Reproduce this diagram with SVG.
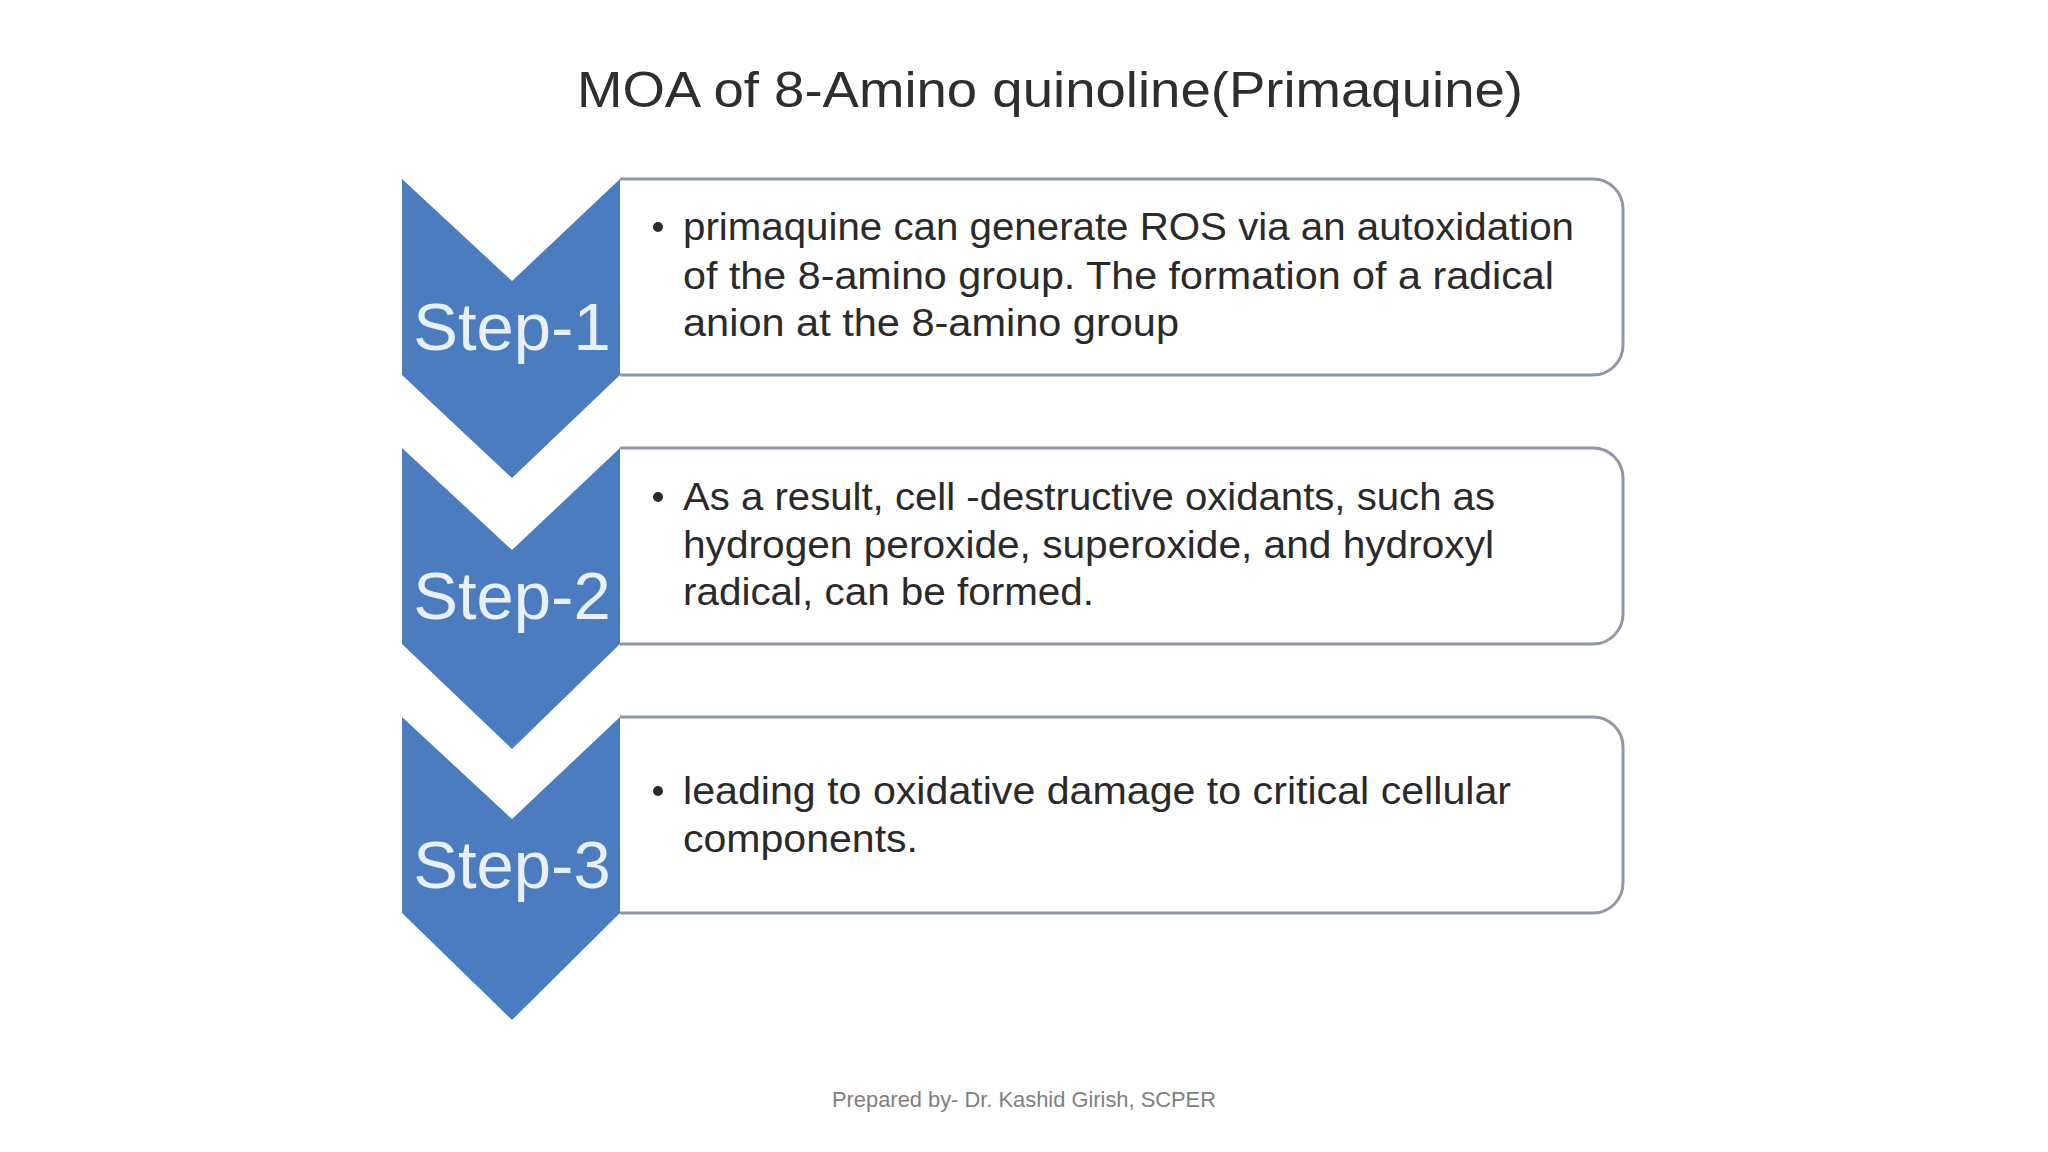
<svg xmlns="http://www.w3.org/2000/svg" width="2048" height="1152" viewBox="0 0 2048 1152">
<style>
.bg{fill:#ffffff}
.chev{fill:#4a7cbf}
.box{fill:#ffffff;stroke:#8e98a6;stroke-width:3}
.step{font-family:"Liberation Sans",Arial,sans-serif;font-size:67px;fill:#e8f1fb;text-anchor:middle}
.txt{font-family:"Liberation Sans",Arial,sans-serif;font-size:38px;fill:#2a2a2a}
.bul{fill:#2a2a2a}
.title{font-family:"Liberation Sans",Arial,sans-serif;font-size:50px;fill:#2e2e2e}
.foot{font-family:"Liberation Sans",Arial,sans-serif;font-size:22px;fill:#808080}
</style>
<rect class="bg" x="0" y="0" width="2048" height="1152"/>
<text class="title" x="577" y="107" textLength="946" lengthAdjust="spacingAndGlyphs">MOA of 8-Amino quinoline(Primaquine)</text>
<g id="connectors"></g>
<g id="step1">
<path class="box" d="M620,179 H1593 A30,30 0 0 1 1623,209 V345 A30,30 0 0 1 1593,375 H620"/>
<path class="chev" d="M402,179 L512,281 L620,179 L620,375 L512,478 L402,375 Z"/>
<text class="step" x="512" y="350">Step-1</text>
<circle class="bul" cx="658" cy="227" r="5"/>
<text class="txt" x="683" y="240" textLength="891" lengthAdjust="spacingAndGlyphs">primaquine can generate ROS via an autoxidation</text>
<text class="txt" x="683" y="289" textLength="871" lengthAdjust="spacingAndGlyphs">of the 8-amino group. The formation of a radical</text>
<text class="txt" x="683" y="336" textLength="496" lengthAdjust="spacingAndGlyphs">anion at the 8-amino group</text>
</g>
<g id="step2">
<path class="box" d="M620,448 H1593 A30,30 0 0 1 1623,478 V614 A30,30 0 0 1 1593,644 H620"/>
<path class="chev" d="M402,448 L512,550 L620,448 L620,644 L512,749 L402,644 Z"/>
<text class="step" x="512" y="619">Step-2</text>
<circle class="bul" cx="658" cy="497" r="5"/>
<text class="txt" x="683" y="510" textLength="812" lengthAdjust="spacingAndGlyphs">As a result, cell -destructive oxidants, such as</text>
<text class="txt" x="683" y="558" textLength="811" lengthAdjust="spacingAndGlyphs">hydrogen peroxide, superoxide, and hydroxyl</text>
<text class="txt" x="683" y="605" textLength="411" lengthAdjust="spacingAndGlyphs">radical, can be formed.</text>
</g>
<g id="step3">
<path class="box" d="M620,717 H1593 A30,30 0 0 1 1623,747 V883 A30,30 0 0 1 1593,913 H620"/>
<path class="chev" d="M402,717 L512,819 L620,717 L620,913 L512,1020 L402,913 Z"/>
<text class="step" x="512" y="888">Step-3</text>
<circle class="bul" cx="658" cy="791" r="5"/>
<text class="txt" x="683" y="804" textLength="828" lengthAdjust="spacingAndGlyphs">leading to oxidative damage to critical cellular</text>
<text class="txt" x="683" y="852" textLength="235" lengthAdjust="spacingAndGlyphs">components.</text>
</g>
<text class="foot" x="832" y="1107" textLength="384" lengthAdjust="spacingAndGlyphs">Prepared by- Dr. Kashid Girish, SCPER</text>
</svg>
